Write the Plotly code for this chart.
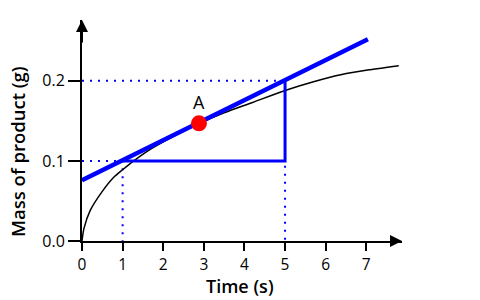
import plotly.graph_objects as go

# Reaction curve
curve_x = [0, 0.05, 0.2, 0.5, 0.77, 1.0, 1.3, 1.7, 2.3, 2.9, 3.5, 4.2, 5.0, 5.7, 6.4, 7.1, 7.8]
curve_y = [0, 0.016, 0.038, 0.062, 0.079, 0.089, 0.101, 0.115, 0.132, 0.147, 0.160, 0.173, 0.188, 0.199, 0.208, 0.214, 0.219]

# Tangent line at point A
tangent_x = [0, 7.04]
tangent_y = [0.076, 0.252]

# Point A
point_x = [2.88]
point_y = [0.147]
point_label = "A"

# Gradient triangle
tri_x = [1, 5, 5]
tri_y = [0.1, 0.1, 0.2]

# Guide lines
guide1_x = [0, 1, 1]
guide1_y = [0.1, 0.1, 0]
guide2_x = [0, 5, 5]
guide2_y = [0.2, 0.2, 0]

x_ticks = [0, 1, 2, 3, 4, 5, 6, 7]
y_ticks = [0.0, 0.1, 0.2]
y_tick_text = ["0.0", "0.1", "0.2"]
x_title = "Time (s)"
y_title = "Mass of product (g)"

x_max = 7.88
y_max = 0.276

BLUE = "#0000ff"
FONT = "Open Sans"

fig = go.Figure()

fig.add_trace(go.Scatter(x=guide1_x, y=guide1_y, mode="lines",
                         line=dict(color=BLUE, width=2, dash="2px,6px"), hoverinfo="skip"))
fig.add_trace(go.Scatter(x=guide2_x, y=guide2_y, mode="lines",
                         line=dict(color=BLUE, width=2, dash="2px,6px"), hoverinfo="skip"))
fig.add_trace(go.Scatter(x=curve_x, y=curve_y, mode="lines",
                         line=dict(color="black", width=1.5, shape="spline", smoothing=0.8)))
fig.add_trace(go.Scatter(x=tri_x, y=tri_y, mode="lines",
                         line=dict(color=BLUE, width=3)))
fig.add_trace(go.Scatter(x=tangent_x, y=tangent_y, mode="lines",
                         line=dict(color=BLUE, width=4.5)))
fig.add_trace(go.Scatter(x=point_x, y=point_y, mode="markers",
                         marker=dict(color="#ff0000", size=16)))

fig.add_annotation(x=point_x[0], y=point_y[0], text=point_label, showarrow=False,
                   yshift=21, font=dict(family=FONT, size=18, color="black"))

# axis arrows
fig.add_annotation(x=x_max, y=0, ax=x_max - 0.3, ay=0, xref="x", yref="y", axref="x", ayref="y",
                   text="", showarrow=True, arrowhead=2, arrowsize=1.2, arrowwidth=2, arrowcolor="black")
fig.add_annotation(x=0, y=y_max, ax=0, ay=y_max - 0.03, xref="x", yref="y", axref="x", ayref="y",
                   text="", showarrow=True, arrowhead=2, arrowsize=1.2, arrowwidth=2, arrowcolor="black")

# axis titles
fig.add_annotation(text=x_title, xref="paper", yref="paper",
                   x=(240 - 82) / 320, y=-(299 - 241) / 221, xanchor="center", yanchor="bottom",
                   showarrow=False, borderpad=0,
                   font=dict(family=FONT, size=18, color="black", weight=600))
fig.add_annotation(text=y_title, xref="paper", yref="paper",
                   x=-(82 - 17) / 320, y=(241 - 152) / 221, xanchor="center", yanchor="middle",
                   textangle=-90, showarrow=False, font=dict(family=FONT, size=18.5, color="black", weight=600))

fig.update_layout(
    width=480, height=300,
    margin=dict(l=82, r=78, t=20, b=59),
    plot_bgcolor="white", paper_bgcolor="white",
    showlegend=False,
    font=dict(family=FONT, color="black"),
    xaxis=dict(range=[0, x_max], tickvals=x_ticks, showgrid=False, zeroline=False,
               showline=True, linecolor="black", linewidth=2,
               ticks="outside", ticklen=8, tickwidth=2, tickcolor="black",
               tickfont=dict(size=15.5, family=FONT)),
    yaxis=dict(range=[0, y_max], tickvals=y_ticks, ticktext=y_tick_text, showgrid=False, zeroline=False,
               showline=True, linecolor="black", linewidth=2,
               ticks="outside", ticklen=12, tickwidth=2, tickcolor="black",
               tickfont=dict(size=16, family=FONT)),
)

fig.write_html("out.html")
